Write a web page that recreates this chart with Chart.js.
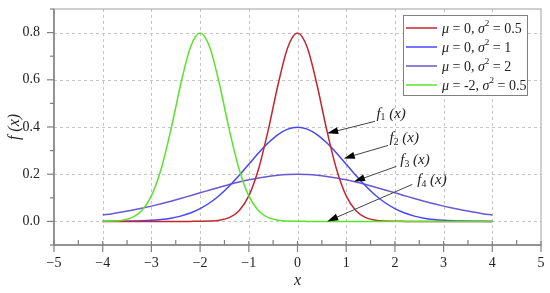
<!DOCTYPE html>
<html>
<head>
<meta charset="utf-8">
<script src="https://cdn.jsdelivr.net/npm/chart.js@4.4.0/dist/chart.umd.min.js"></script>
<style>
  html, body { margin: 0; padding: 0; background: #fff; }
</style>
</head>
<body>
<canvas id="chart" width="550" height="293"></canvas>
<script>
// x positions shared by every curve
const xValues = [-4.0, -3.8, -3.6, -3.4, -3.2, -3.0, -2.8, -2.6, -2.4, -2.2, -2.0,
  -1.8, -1.6, -1.4, -1.2, -1.0, -0.8, -0.6, -0.4, -0.2, 0.0,
  0.2, 0.4, 0.6, 0.8, 1.0, 1.2, 1.4, 1.6, 1.8, 2.0,
  2.2, 2.4, 2.6, 2.8, 3.0, 3.2, 3.4, 3.6, 3.8, 4.0];

// f1: mu = 0, sigma^2 = 0.5 (red)
const f1 = [0, 0, 0, 0, 0, 0, 0, 0, 0, 0.0001, 0.0003,
  0.0012, 0.0048, 0.0158, 0.0448, 0.108, 0.222, 0.388, 0.579, 0.737, 0.798,
  0.737, 0.579, 0.388, 0.222, 0.108, 0.0448, 0.0158, 0.0048, 0.0012, 0.0003,
  0.0001, 0, 0, 0, 0, 0, 0, 0, 0, 0];

// f2: mu = 0, sigma^2 = 1 (blue)
const f2 = [0.0001, 0.0003, 0.0006, 0.0012, 0.0024, 0.0044, 0.0079, 0.0136, 0.0224, 0.0355, 0.054,
  0.079, 0.111, 0.150, 0.194, 0.242, 0.290, 0.333, 0.368, 0.391, 0.399,
  0.391, 0.368, 0.333, 0.290, 0.242, 0.194, 0.150, 0.111, 0.079, 0.054,
  0.0355, 0.0224, 0.0136, 0.0079, 0.0044, 0.0024, 0.0012, 0.0006, 0.0003, 0.0001];

// f3: mu = 0, sigma^2 = 2 (purple)
const f3 = [0.0270, 0.0328, 0.0395, 0.0470, 0.0555, 0.0648, 0.0749, 0.0857, 0.0971, 0.1090, 0.1210,
  0.1331, 0.1449, 0.1561, 0.1666, 0.1761, 0.1842, 0.1907, 0.1956, 0.1985, 0.1995,
  0.1985, 0.1956, 0.1907, 0.1842, 0.1761, 0.1666, 0.1561, 0.1449, 0.1331, 0.1210,
  0.1090, 0.0971, 0.0857, 0.0749, 0.0648, 0.0555, 0.0470, 0.0395, 0.0328, 0.0270];

// f4: mu = -2, sigma^2 = 0.5 (green)
const f4 = [0.0003, 0.0012, 0.0048, 0.0158, 0.0448, 0.108, 0.222, 0.388, 0.579, 0.737, 0.798,
  0.737, 0.579, 0.388, 0.222, 0.108, 0.0448, 0.0158, 0.0048, 0.0012, 0.0003,
  0.0001, 0, 0, 0, 0, 0, 0, 0, 0, 0,
  0, 0, 0, 0, 0, 0, 0, 0, 0, 0];

const legendMu = ["0", "0", "0", "-2"];
const legendSigma2 = ["0.5", "1", "2", "0.5"];
const colors = ["#c0282d", "#4646ff", "#6a58d0", "#5ce22e"];

const xTicks = [-5, -4, -3, -2, -1, 0, 1, 2, 3, 4, 5];
const yTicks = [0, 0.2, 0.4, 0.6, 0.8];

// arrows: label number, text anchor, arrow tail, arrow tip (data units)
const arrowNotes = [
  { n: "1", text: [1.62, 0.455], from: [1.59, 0.424], to: [0.61, 0.373] },
  { n: "2", text: [1.89, 0.352], from: [1.86, 0.322], to: [0.95, 0.267] },
  { n: "3", text: [2.11, 0.258], from: [2.03, 0.233], to: [1.16, 0.169] },
  { n: "4", text: [2.46, 0.174], from: [2.36, 0.157], to: [0.61, 0.0] }
];

const SERIF = '"Liberation Serif", "Times New Roman", serif';

function toPoints(ys) {
  return xValues.map((x, i) => ({ x: x, y: ys[i] }));
}

// draw a run of text pieces: {t, i (italic), sup, sub}
function drawRich(ctx, parts, x, y, size) {
  ctx.textBaseline = "middle";
  ctx.textAlign = "left";
  parts.forEach(p => {
    let s = size, dy = 0;
    if (p.sup) { s = size * 0.65; dy = -size * 0.35; }
    if (p.sub) { s = size * 0.65; dy = size * 0.25; }
    ctx.font = (p.i ? "italic " : "") + s + "px " + SERIF;
    ctx.fillText(p.t, x, y + dy);
    x += ctx.measureText(p.t).width;
  });
}

const decor = {
  id: "decor",
  beforeDatasetsDraw(chart) {
    const { ctx, chartArea: a, scales: { x, y } } = chart;
    ctx.save();
    ctx.strokeStyle = "#c4c4c4";
    ctx.lineWidth = 1;
    ctx.setLineDash([3, 3]);
    xTicks.forEach(v => {
      if (v <= -5 || v >= 5) return;
      const px = Math.round(x.getPixelForValue(v)) + 0.5;
      ctx.beginPath(); ctx.moveTo(px, a.top); ctx.lineTo(px, a.bottom); ctx.stroke();
    });
    yTicks.forEach(v => {
      const py = Math.round(y.getPixelForValue(v)) + 0.5;
      ctx.beginPath(); ctx.moveTo(a.left, py); ctx.lineTo(a.right, py); ctx.stroke();
    });
    ctx.restore();
  },
  afterDatasetsDraw(chart) {
    const { ctx, chartArea: a, scales: { x, y } } = chart;
    ctx.save();

    // frame
    ctx.strokeStyle = "#a0a0a0";
    ctx.lineWidth = 1;
    ctx.strokeRect(a.left, a.top, a.right - a.left, a.bottom - a.top);
    ctx.strokeStyle = "#808080";
    ctx.lineWidth = 1.5;
    ctx.beginPath();
    ctx.moveTo(a.left, a.top); ctx.lineTo(a.left, a.bottom); ctx.lineTo(a.right, a.bottom);
    ctx.stroke();

    // tick marks
    ctx.lineWidth = 1.2;
    for (let v = -5; v <= 5.001; v += 0.5) {
      const px = x.getPixelForValue(v);
      const major = Math.abs(v - Math.round(v)) < 0.01;
      ctx.beginPath();
      ctx.moveTo(px, major ? a.bottom - 4 : a.bottom - 5);
      ctx.lineTo(px, major ? a.bottom + 7 : a.bottom);
      ctx.stroke();
    }
    for (let v = -0.1; v <= 0.9001; v += 0.1) {
      const py = y.getPixelForValue(v);
      const major = Math.abs(v * 5 - Math.round(v * 5)) < 0.01;
      ctx.beginPath();
      ctx.moveTo(a.left - (major ? 7 : 4), py);
      ctx.lineTo(a.left, py);
      ctx.stroke();
    }

    // axis titles
    ctx.fillStyle = "#222";
    ctx.font = "italic 16px " + SERIF;
    ctx.textAlign = "center";
    ctx.textBaseline = "middle";
    ctx.fillText("x", (a.left + a.right) / 2, 281);
    ctx.save();
    ctx.translate(15, (a.top + a.bottom) / 2);
    ctx.rotate(-Math.PI / 2);
    ctx.fillText("f (x)", 0, 0);
    ctx.restore();

    // arrows with labels
    arrowNotes.forEach(n => {
      const x0 = x.getPixelForValue(n.from[0]), y0 = y.getPixelForValue(n.from[1]);
      const x1 = x.getPixelForValue(n.to[0]), y1 = y.getPixelForValue(n.to[1]);
      const ang = Math.atan2(y1 - y0, x1 - x0);
      ctx.strokeStyle = "#444";
      ctx.lineWidth = 1;
      ctx.beginPath(); ctx.moveTo(x0, y0); ctx.lineTo(x1 - 8 * Math.cos(ang), y1 - 8 * Math.sin(ang)); ctx.stroke();
      ctx.fillStyle = "#000";
      ctx.beginPath();
      ctx.moveTo(x1, y1);
      ctx.lineTo(x1 - 11 * Math.cos(ang) + 3.5 * Math.sin(ang), y1 - 11 * Math.sin(ang) - 3.5 * Math.cos(ang));
      ctx.lineTo(x1 - 11 * Math.cos(ang) - 3.5 * Math.sin(ang), y1 - 11 * Math.sin(ang) + 3.5 * Math.cos(ang));
      ctx.closePath(); ctx.fill();
      ctx.fillStyle = "#222";
      drawRich(ctx, [{ t: "f", i: true }, { t: n.n, sub: true }, { t: " (x)", i: true }],
        x.getPixelForValue(n.text[0]), y.getPixelForValue(n.text[1]), 15);
    });

    // legend box
    const bx = a.right - 138, by = a.top + 6, bw = 124, bh = 80;
    ctx.fillStyle = "#fff";
    ctx.fillRect(bx, by, bw, bh);
    ctx.strokeStyle = "#808080";
    ctx.lineWidth = 1;
    ctx.strokeRect(bx + 0.5, by + 0.5, bw, bh);
    legendMu.forEach((mu, i) => {
      const ly = by + 13 + i * 19;
      ctx.strokeStyle = colors[i];
      ctx.lineWidth = 1.5;
      ctx.beginPath(); ctx.moveTo(bx + 3, ly); ctx.lineTo(bx + 34, ly); ctx.stroke();
      ctx.fillStyle = "#222";
      drawRich(ctx, [
        { t: "\u03bc", i: true }, { t: " = " + mu + ", " },
        { t: "\u03c3", i: true }, { t: "2", sup: true }, { t: " = " + legendSigma2[i] }
      ], bx + 39, ly + 1, 14);
    });

    ctx.restore();
  }
};

const series = [f1, f2, f3, f4];

new Chart(document.getElementById("chart"), {
  type: "line",
  data: {
    datasets: series.map((s, i) => ({
      data: toPoints(s),
      borderColor: colors[i],
      borderWidth: 1.5,
      pointRadius: 0,
      cubicInterpolationMode: "monotone",
      fill: false,
      order: i === 3 ? 0 : i + 1
    }))
  },
  options: {
    responsive: false,
    animation: false,
    devicePixelRatio: 1,
    layout: { padding: { top: 9, right: 9, left: 0, bottom: 0 } },
    plugins: { legend: { display: false }, tooltip: { enabled: false } },
    scales: {
      x: {
        type: "linear",
        min: -5, max: 5,
        afterBuildTicks: s => { s.ticks = xTicks.map(v => ({ value: v })); },
        afterFit: s => { s.height = 48; s.paddingLeft = 0; s.paddingRight = 0; },
        grid: { display: false, drawTicks: false },
        border: { display: false },
        ticks: {
          color: "#222",
          font: { family: SERIF, size: 14 },
          padding: 10,
          maxRotation: 0,
          autoSkip: false,
          callback: v => v < 0 ? "\u2212" + Math.abs(v) : String(v)
        }
      },
      y: {
        type: "linear",
        min: -0.1, max: 0.9,
        afterBuildTicks: s => { s.ticks = yTicks.map(v => ({ value: v })); },
        afterFit: s => { s.width = 54; s.paddingTop = 0; s.paddingBottom = 0; },
        grid: { display: false, drawTicks: false },
        border: { display: false },
        ticks: {
          color: "#222",
          font: { family: SERIF, size: 14 },
          padding: 14,
          callback: v => v.toFixed(1)
        }
      }
    }
  },
  plugins: [decor]
});
</script>
</body>
</html>
